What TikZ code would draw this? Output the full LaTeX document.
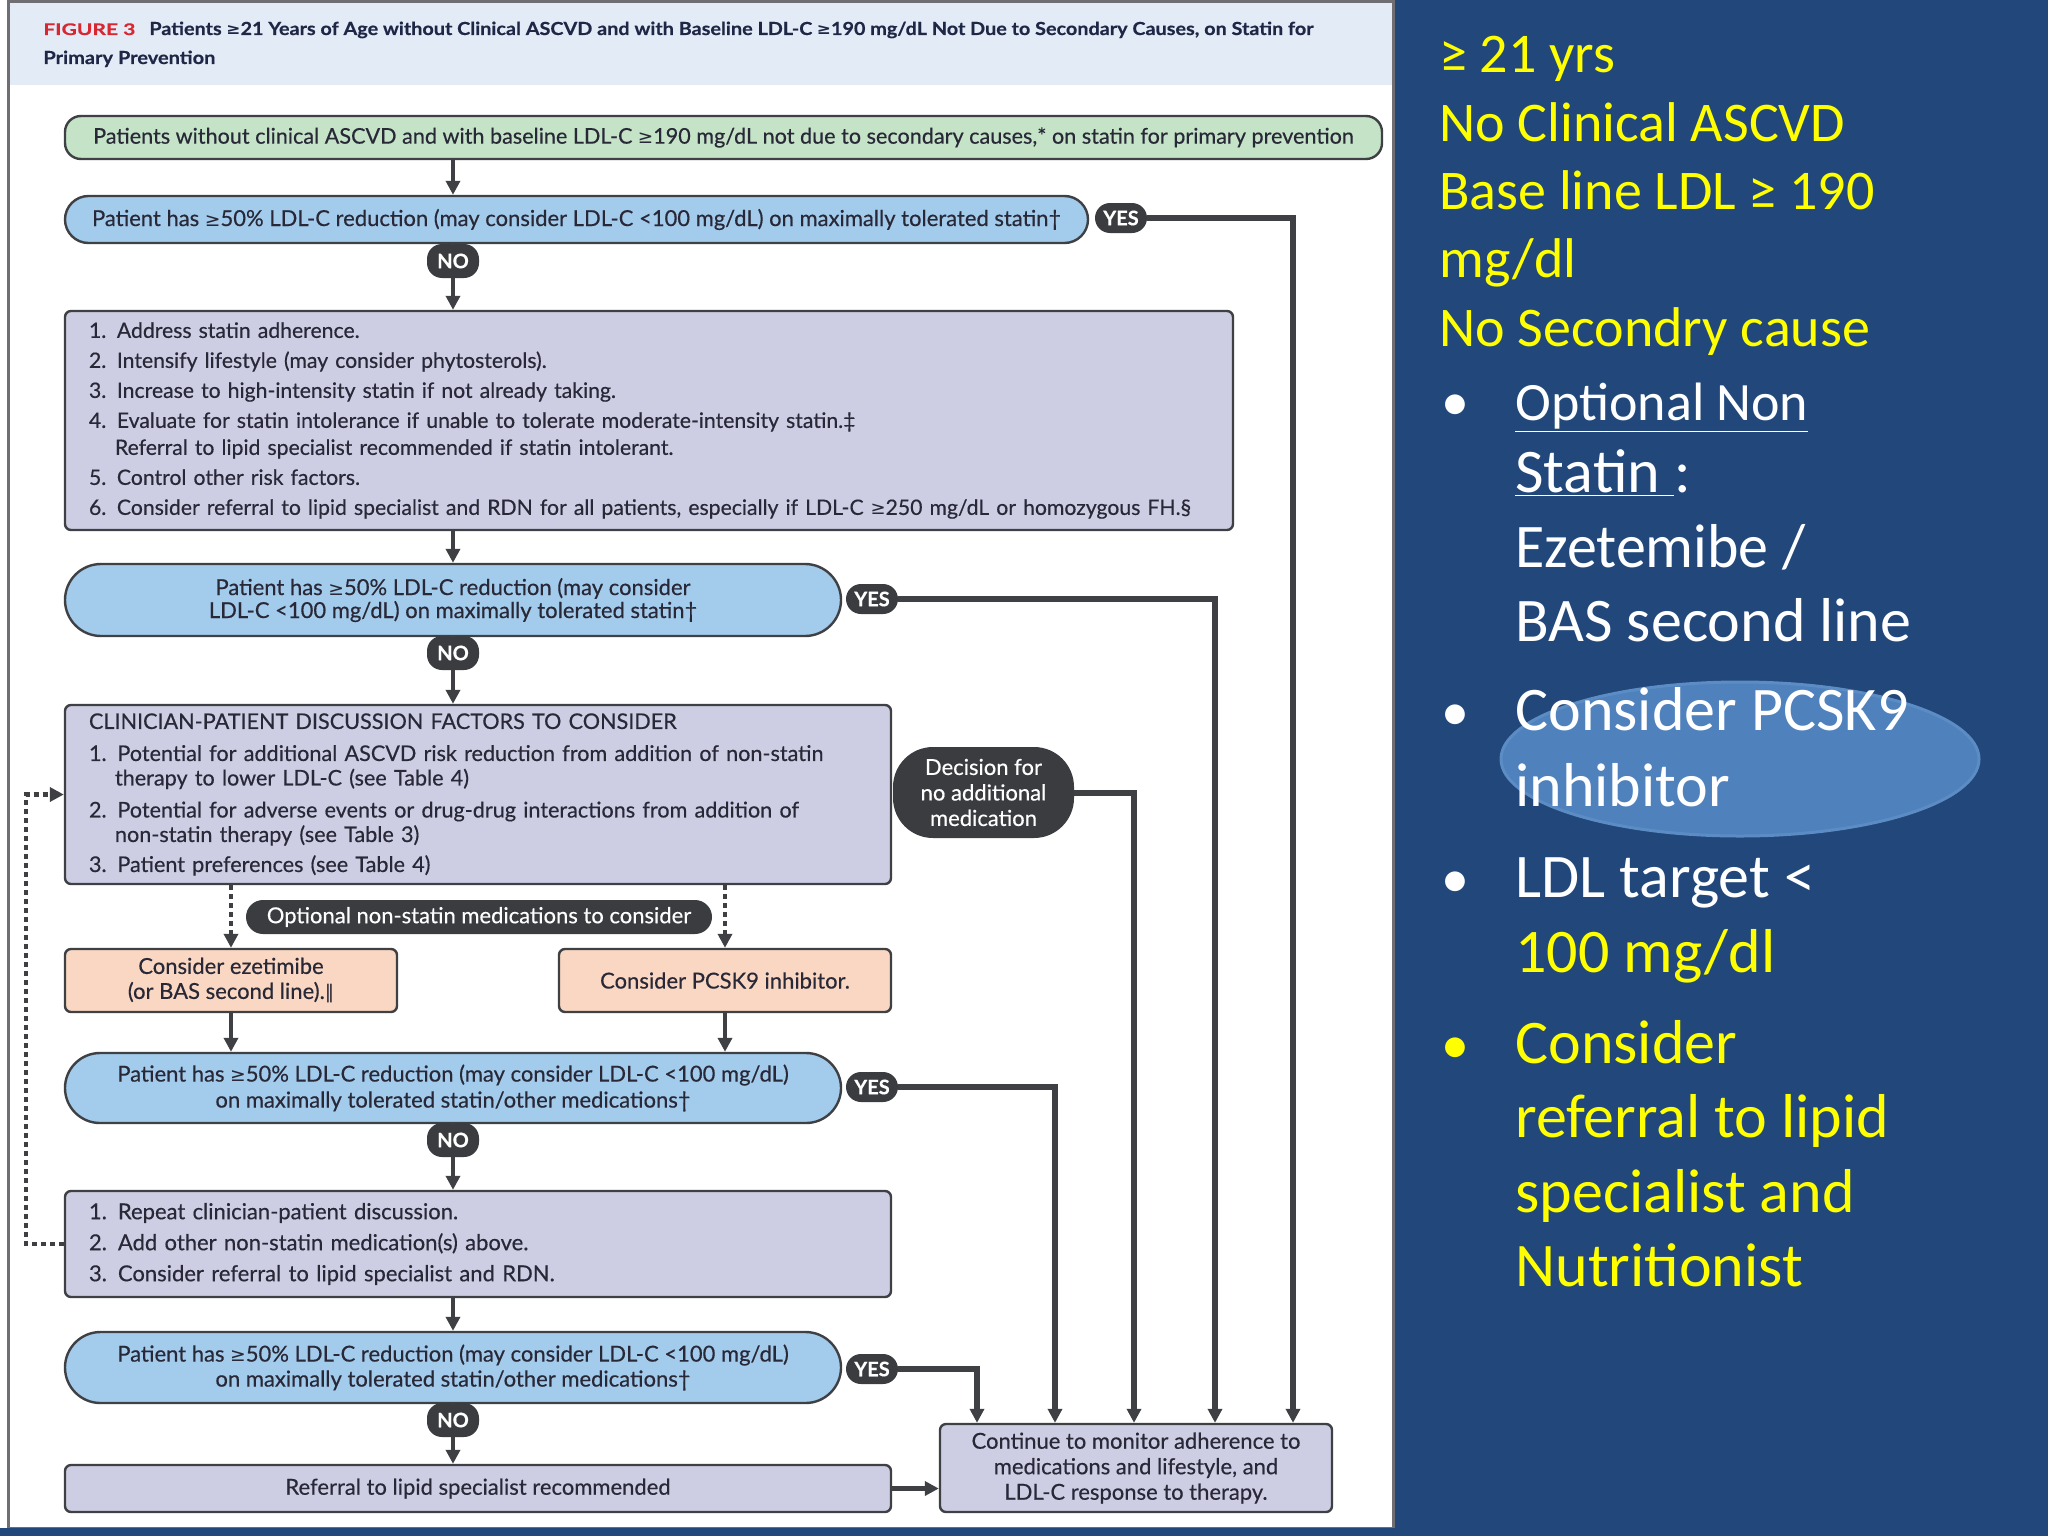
\documentclass[tikz,border=0pt]{standalone}
\usepackage{fontspec}
\usepackage{graphicx}
\setmainfont{Lato}[FakeBold=0.4]
\newfontfamily\rfont{Carlito}
\newfontfamily\symf{DejaVu Sans}[Scale=0.85]
\usetikzlibrary{arrows.meta,shapes.misc,calc}
\definecolor{linegray}{RGB}{63,64,68}
\definecolor{badgefill}{RGB}{58,60,64}
\definecolor{greenfill}{RGB}{196,227,199}
\definecolor{bluefill}{RGB}{163,203,236}
\definecolor{lavfill}{RGB}{205,206,228}
\definecolor{peachfill}{RGB}{249,215,194}
\definecolor{headfill}{RGB}{227,235,247}
\definecolor{navyr}{RGB}{33,71,123}
\definecolor{titletxt}{RGB}{30,40,70}
\definecolor{figred}{RGB}{215,40,50}
\definecolor{boxtext}{RGB}{40,40,55}
\definecolor{ylw}{RGB}{255,255,0}
\definecolor{ellfill}{RGB}{79,129,189}
\definecolor{elldraw}{RGB}{92,140,196}
\definecolor{framegray}{RGB}{110,110,115}
\newcommand{\GE}{{\symf ≥}}
\newcommand{\bodyfont}{\fontsize{11pt}{12.5pt}\selectfont}
\begin{document}
\begin{tikzpicture}[x=0.5pt,y=-0.5pt,
  box/.style={draw=linegray, line width=1.2pt, inner sep=0pt, text=boxtext, font=\bodyfont, align=center},
  gbox/.style={box, fill=greenfill, rounded corners=8pt},
  pill/.style={box, fill=bluefill, rounded rectangle},
  lbox/.style={box, fill=lavfill, rounded corners=3pt},
  pbox/.style={box, fill=peachfill, rounded corners=3pt},
  badge/.style={fill=badgefill, text=white, rounded corners=7.5pt, minimum width=26pt, minimum height=15pt, inner sep=0pt, font=\fontsize{10pt}{11pt}\selectfont\bfseries},
  decn/.style={fill=badgefill, text=white, rounded corners=20pt, inner sep=0pt, align=center, font=\fontsize{11pt}{12.75pt}\selectfont},
  ln/.style={draw=linegray, line width=2.2pt},
  arr/.style={ln, -{Triangle[length=7pt,width=7pt]}},
  yarr/.style={draw=linegray, line width=3pt, -{Triangle[length=7pt,width=7pt]}},
  dasharr/.style={draw=linegray, line width=2.3pt, dash pattern=on 2.5pt off 2pt, -{Triangle[length=7pt,width=7pt]}},
  ttl/.style={anchor=base west, inner sep=0pt, text=titletxt, font=\fontsize{9pt}{11pt}\selectfont\bfseries},
  rtxt/.style={anchor=base west, inner sep=0pt, font=\rfont\fontsize{28pt}{34pt}\selectfont},
  rbig/.style={anchor=base west, inner sep=0pt, font=\rfont\fontsize{31pt}{36pt}\selectfont},
]
\useasboundingbox (0,0) rectangle (2048,1536);
\fill[white] (0,0) rectangle (2048,1536);
% header band and frame
\fill[headfill] (9,3) rectangle (1393,85);
\draw[framegray, line width=1.5pt] (8,2) rectangle (1393,1528);
\node[ttl, text=figred, font=\fontsize{8pt}{10pt}\selectfont\bfseries] (fig) at (43,35) {\resizebox{46pt}{\height}{FIGURE 3}};
\node[ttl] (title1) at (149,35) {\resizebox{582pt}{\height}{Patients \GE21 Years of Age without Clinical ASCVD and with Baseline LDL-C \GE190 mg/dL Not Due to Secondary Causes, on Statin for}};
\node[ttl] (title2) at (43,64) {\resizebox{86pt}{\height}{Primary Prevention}};
% right panel
\fill[navyr] (1395,0) rectangle (2048,1536);
\fill[navyr] (0,1528) rectangle (2048,1536);

% flowchart nodes
\node[gbox, minimum width=658.5pt, minimum height=21.5pt, font=\fontsize{10.8pt}{12.5pt}\selectfont] (b1) at (723.5,137.5)
 {Patients without clinical ASCVD and with baseline LDL-C \GE190 mg/dL not due to secondary causes,* on statin for primary prevention};
\node[pill, minimum width=511.5pt, minimum height=23.5pt] (b2) at (576.5,219.5)
 {Patient has \GE50\% LDL-C reduction (may consider LDL-C <100 mg/dL) on maximally tolerated statin†};
\node[badge] (yes2) at (1121,218) {YES};
\node[badge, minimum height=17pt] (no2) at (453,261) {NO};
\node[lbox, text width=560pt, inner xsep=12pt, minimum height=109.5pt, align=left, font=\fontsize{10.6pt}{15pt}\selectfont] (b3) at (649,420.5)
 {1. Address statin adherence.\\
  2. Intensify lifestyle (may consider phytosterols).\\
  3. Increase to high-intensity statin if not already taking.\\
  4. Evaluate for statin intolerance if unable to tolerate moderate-intensity statin.‡\\[-1.5pt]
  \hspace*{13pt}Referral to lipid specialist recommended if statin intolerant.\\
  5. Control other risk factors.\\
  6. Consider referral to lipid specialist and RDN for all patients, especially if LDL-C \GE250 mg/dL or homozygous FH.§};
\node[pill, minimum width=388pt, minimum height=36pt, font=\fontsize{11pt}{11.5pt}\selectfont] (b4) at (453,600)
 {Patient has \GE50\% LDL-C reduction (may consider\\LDL-C <100 mg/dL) on maximally tolerated statin†};
\node[badge] (yes4) at (872,599) {YES};
\node[badge, minimum height=17pt] (no4) at (453,653) {NO};
\node[lbox, text width=389pt, inner xsep=12pt, minimum height=89.5pt, align=left, font=\fontsize{10.8pt}{12.25pt}\selectfont] (b5) at (478,794.5)
 {CLINICIAN-PATIENT DISCUSSION FACTORS TO CONSIDER\\[3.75pt]
  1. Potential for additional ASCVD risk reduction from addition of non-statin\\
  \hspace*{13pt}therapy to lower LDL-C (see Table 4)\\[3.75pt]
  2. Potential for adverse events or drug-drug interactions from addition of\\
  \hspace*{13pt}non-statin therapy (see Table 3)\\[2.75pt]
  3. Patient preferences (see Table 4)};
\node[decn, minimum width=90.5pt, minimum height=45.5pt] (dec) at (983.5,792.5) {Decision for\\no additional\\medication};
\node[badge, minimum width=233pt, minimum height=17pt, rounded corners=8.5pt, font=\bodyfont] (opt) at (479,917) {Optional non-statin medications to consider};
\node[pbox, minimum width=166pt, minimum height=31.5pt] (eze) at (231,980.5) {Consider ezetimibe\\(or BAS second line).{\symf ‖}};
\node[pbox, minimum width=166pt, minimum height=31.5pt] (pcsk) at (725,980.5) {Consider PCSK9 inhibitor.};
\node[pill, minimum width=388pt, minimum height=35pt, font=\fontsize{11pt}{13pt}\selectfont] (b6) at (453,1088)
 {Patient has \GE50\% LDL-C reduction (may consider LDL-C <100 mg/dL)\\on maximally tolerated statin/other medications†};
\node[badge] (yes6) at (872,1087) {YES};
\node[badge, minimum height=17pt] (no6) at (453,1140) {NO};
\node[lbox, text width=389pt, inner xsep=12pt, minimum height=53pt, align=left, font=\fontsize{11pt}{15.5pt}\selectfont] (b7) at (478,1244)
 {1. Repeat clinician-patient discussion.\\
  2. Add other non-statin medication(s) above.\\
  3. Consider referral to lipid specialist and RDN.};
\node[pill, minimum width=388pt, minimum height=35.5pt, font=\fontsize{11pt}{12.5pt}\selectfont] (b8) at (453,1367.5)
 {Patient has \GE50\% LDL-C reduction (may consider LDL-C <100 mg/dL)\\on maximally tolerated statin/other medications†};
\node[badge] (yes8) at (872,1369) {YES};
\node[badge, minimum height=17pt] (no8) at (453,1420) {NO};
\node[lbox, minimum width=413pt, minimum height=23.5pt] (b9) at (478,1488.5) {Referral to lipid specialist recommended};
\node[lbox, minimum width=196pt, minimum height=44pt, font=\fontsize{11pt}{12.75pt}\selectfont] (cont) at (1136,1468)
 {Continue to monitor adherence to\\medications and lifestyle, and\\LDL-C response to therapy.};

\coordinate (k1) at (977,0);
\coordinate (k2) at (1055,0);
\coordinate (k3) at (1134,0);
\coordinate (k4) at (1215,0);
\coordinate (k5) at (1293,0);
\coordinate (fb) at (26,0);

% connectors
\draw[arr] (b1.south -| no2) -- (b2.north -| no2);
\draw[ln] (b2.south -| no2) -- (no2.north);
\draw[arr] (no2.south) -- (b3.north -| no2);
\draw[arr] (b3.south -| no2) -- (b4.north);
\draw[ln] (b4.south) -- (no4.north);
\draw[arr] (no4.south) -- (b5.north -| no4);
\draw[dasharr] (b5.south -| eze) -- (eze.north);
\draw[dasharr] (b5.south -| pcsk) -- (pcsk.north);
\draw[arr] (eze.south) -- (b6.north -| eze);
\draw[arr] (pcsk.south) -- (b6.north -| pcsk);
\draw[ln] (b6.south) -- (no6.north);
\draw[arr] (no6.south) -- (b7.north -| no6);
\draw[arr] (b7.south -| no6) -- (b8.north);
\draw[ln] (b8.south) -- (no8.north);
\draw[arr] (no8.south) -- (b9.north -| no8);
\draw[arr] (b9.east) -- (cont.west |- b9.east);
\draw[yarr] (yes2.east) -| (k5 |- cont.north);
\draw[yarr] (yes4.east) -| (k4 |- cont.north);
\draw[yarr] (dec.east) -| (k3 |- cont.north);
\draw[yarr] (yes6.east) -| (k2 |- cont.north);
\draw[yarr] (yes8.east) -| (k1 |- cont.north);
\draw[dasharr] (b7.west) -- (fb |- b7.west) -- (fb |- b5.west) -- (b5.west);

% right panel text
\draw[elldraw, fill=ellfill, line width=1.5pt] (1740,759) ellipse [x radius=119.5pt, y radius=38.5pt];
\node[rtxt, text=ylw] (r1) at (1439,73) {≥ 21 yrs};
\node[rtxt, text=ylw] (r2) at (1439,141) {No Clinical ASCVD};
\node[rtxt, text=ylw] (r3) at (1439,209) {Base line LDL ≥ 190};
\node[rtxt, text=ylw] (r4) at (1439,277) {mg/dl};
\node[rtxt, text=ylw] (r5) at (1439,346) {No Secondry cause};
\node[rtxt, text=white] (u1) at (1441,420) {•};
\node[rtxt, text=white, font=\rfont\fontsize{27pt}{32pt}\selectfont] (t1a) at (1515,420) {\underline{Optional Non}};
\node[rbig, text=white] (t1b) at (1515,492) {\underline{Statin\ }:};
\node[rbig, text=white] (t1c) at (1515,567) {\resizebox{145pt}{\height}{Ezetemibe /}};
\node[rbig, text=white] (t1d) at (1515,641) {BAS second line};
\node[rtxt, text=white] (u2) at (1441,730) {•};
\node[rbig, text=white] (t2a) at (1515,730) {Consider PCSK9};
\node[rbig, text=white] (t2b) at (1515,806) {inhibitor};
\node[rtxt, text=white] (u3) at (1441,897) {•};
\node[rbig, text=white] (t3a) at (1515,897) {LDL target <};
\node[rbig, text=ylw] (t3b) at (1515,972) {100 mg/dl};
\node[rtxt, text=ylw] (u4) at (1441,1063) {•};
\node[rbig, text=ylw] (t4a) at (1515,1063) {Consider};
\node[rbig, text=ylw] (t4b) at (1515,1137) {referral to lipid};
\node[rbig, text=ylw] (t4c) at (1515,1212) {specialist and};
\node[rbig, text=ylw] (t4d) at (1515,1286) {Nutritionist};
\end{tikzpicture}
\end{document}
